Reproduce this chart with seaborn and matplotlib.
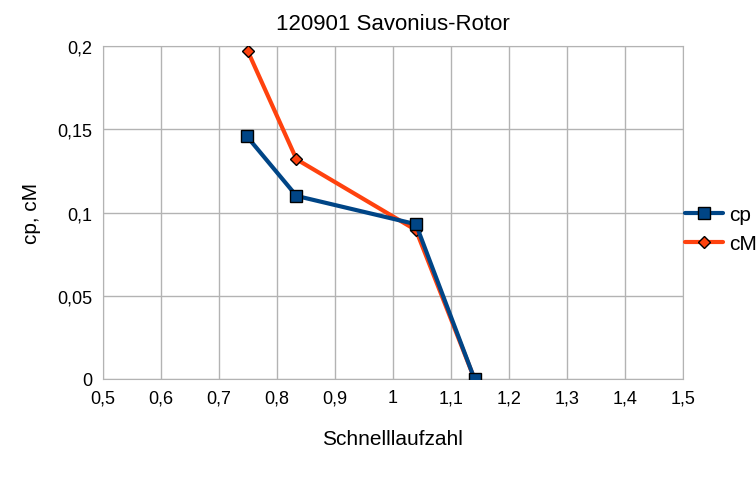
import matplotlib
matplotlib.use("Agg")
import matplotlib.pyplot as plt
import seaborn as sns
import pandas as pd

# Messwerte
schnelllaufzahl_cp = [0.748, 0.834, 1.04, 1.141]
cp = [0.146, 0.110, 0.093, 0.0]
schnelllaufzahl_cm = [0.750, 0.834, 1.04, 1.141]
cm = [0.197, 0.132, 0.0895, 0.0]

x_ticks = [0.5, 0.6, 0.7, 0.8, 0.9, 1.0, 1.1, 1.2, 1.3, 1.4, 1.5]
y_ticks = [0, 0.05, 0.1, 0.15, 0.2]

sns.set_style("white")
plt.rcParams['font.family'] = ['Liberation Sans', 'DejaVu Sans']
plt.rcParams['text.color'] = 'black'
plt.rcParams['axes.labelcolor'] = 'black'

df_cp = pd.DataFrame({'x': schnelllaufzahl_cp, 'y': cp})
df_cm = pd.DataFrame({'x': schnelllaufzahl_cm, 'y': cm})

fig = plt.figure(figsize=(7.56, 4.81), dpi=100)
ax = fig.add_axes([0.136, 0.21, 0.767, 0.692])

sns.lineplot(data=df_cp, x='x', y='y', ax=ax, color='#004586', linewidth=3,
             marker='s', markersize=9, markeredgecolor='black', markeredgewidth=1,
             label='cp', sort=False, zorder=4)
sns.lineplot(data=df_cm, x='x', y='y', ax=ax, color='#ff420e', linewidth=3,
             marker='D', markersize=6, markeredgecolor='black', markeredgewidth=1,
             label='cM', sort=False, zorder=3)

def fmt(v):
    s = f"{v:g}"
    return s.replace('.', ',')

ax.set_xlim(0.5, 1.5)
ax.set_ylim(0, 0.2)
ax.set_xticks(x_ticks)
ax.set_xticklabels([fmt(v) for v in x_ticks], fontsize=13)
ax.set_yticks(y_ticks)
ax.set_yticklabels([fmt(v) for v in y_ticks], fontsize=13)
ax.grid(True, color='#b3b3b3', linewidth=1)
for s in ax.spines.values():
    s.set_color('#b3b3b3')
ax.tick_params(length=4, color='#b3b3b3', direction='out', labelcolor='black')
ax.set_axisbelow(True)

ax.set_title("120901 Savonius-Rotor", fontsize=16, pad=12)
ax.set_xlabel("Schnelllaufzahl", fontsize=15, labelpad=16)
ax.set_ylabel("cp, cM", fontsize=15, labelpad=12)

ax.legend(loc='center left', bbox_to_anchor=(0.99, 0.45), frameon=False,
          fontsize=15, handlelength=1.8, handletextpad=0.3, borderaxespad=0)

fig.savefig("out.png", dpi=100)
